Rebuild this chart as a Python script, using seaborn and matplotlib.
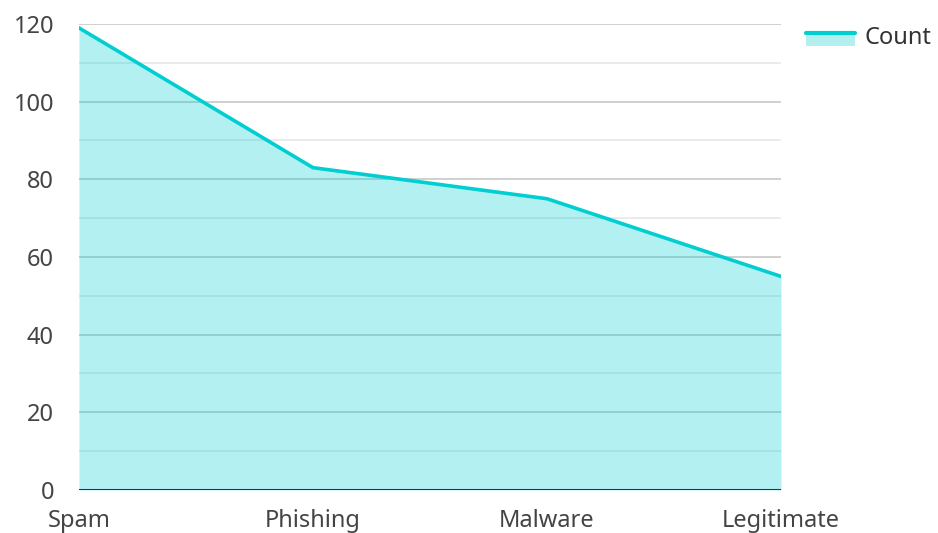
import pandas as pd
import matplotlib
matplotlib.use("Agg")
import matplotlib.pyplot as plt
import seaborn as sns
from matplotlib.patches import Rectangle
from matplotlib.lines import Line2D
from matplotlib.legend_handler import HandlerBase

# data
categories = ["Spam", "Phishing", "Malware", "Legitimate"]
counts = [119, 83, 75, 55]

line_color = "#00CED1"
fill_color = "#B2EFEE"

sns.set_style("white")
plt.rcParams["font.family"] = ["Noto Sans", "DejaVu Sans"]

df = pd.DataFrame({"category": categories, "Count": counts})

fig = plt.figure(figsize=(9.38, 5.33), dpi=100)
ax = fig.add_axes([0.0842, 0.0807, 0.7484, 0.8743])

# gridlines, darker every 20
for v in range(10, 121, 10):
    c = "#c8c8c8" if v % 20 == 0 else "#e8e8e8"
    ax.axhline(v, color=c, lw=1.2, zorder=0)

x = list(range(len(categories)))
ax.fill_between(x, counts, 0, color=line_color, alpha=0.3, lw=0, zorder=1)
sns.lineplot(data=df, x="category", y="Count", ax=ax, color=line_color,
             lw=2.6, zorder=3, sort=False)
ax.axhline(0, color="#333333", lw=2.2, zorder=4)

ax.set_xlim(0, 3)
ax.set_ylim(0, 120)
ax.set_yticks(range(0, 121, 20))
ax.set_xticks(x)
ax.set_xticklabels(categories)
ax.set_xlabel("")
ax.set_ylabel("")
ax.tick_params(axis="both", length=0, labelsize=17, colors="#444444")
ax.tick_params(axis="y", pad=18)
ax.tick_params(axis="x", pad=14)
for s in ax.spines.values():
    s.set_visible(False)


class AreaHandler(HandlerBase):
    def create_artists(self, legend, orig, xd, yd, w, h, fontsize, trans):
        r = Rectangle((xd, yd), w, h, facecolor=fill_color,
                      edgecolor="none", transform=trans)
        ln = Line2D([xd, xd + w], [yd + h, yd + h],
                    color=line_color, lw=3, transform=trans)
        return [r, ln]


handle = Rectangle((0, 0), 1, 1)
leg = fig.legend([handle], ["Count"], handler_map={Rectangle: AreaHandler()},
                 loc="center left", bbox_to_anchor=(0.859, 0.928), frameon=False,
                 fontsize=17, handlelength=2.1, handleheight=0.5,
                 handletextpad=0.4, borderaxespad=0, borderpad=0)
for t in leg.get_texts():
    t.set_color("#333333")

fig.savefig("out.png", dpi=100)
